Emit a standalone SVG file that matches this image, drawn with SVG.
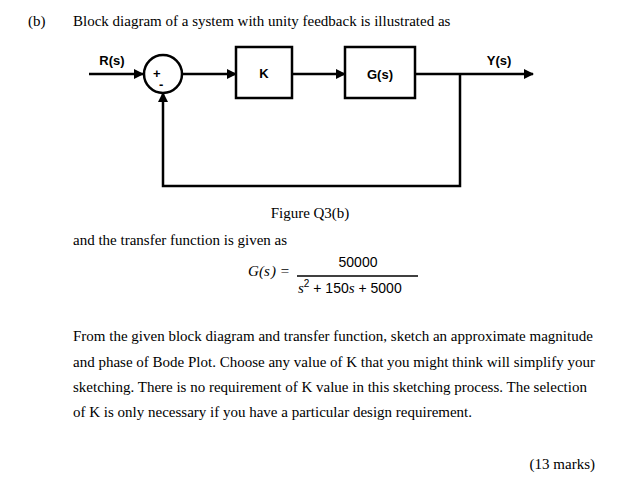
<svg xmlns="http://www.w3.org/2000/svg" width="621" height="491" viewBox="0 0 621 491">
<style>
.t{font-family:"Liberation Serif",serif;font-size:15px;fill:#000}
.s{font-family:"Liberation Sans",Arial,sans-serif;font-weight:bold;font-size:13px;fill:#000}
.m{font-family:"Liberation Serif",serif;font-style:italic;font-size:15px}
.n{font-family:"Liberation Sans",sans-serif;font-size:14px}
.ln{stroke:#000;stroke-width:2.5;fill:none}
</style>
<defs><marker id="a" markerWidth="10" markerHeight="10" refX="9" refY="5" orient="auto" markerUnits="userSpaceOnUse"><path d="M0,0 L10,5 L0,10 Z" fill="#000"/></marker></defs>
<rect width="621" height="491" fill="#fff"/>
<text class="t" x="28" y="26">(b)</text>
<text class="t" x="73" y="26">Block diagram of a system with unity feedback is illustrated as</text>
<g id="sum"><circle cx="163" cy="74" r="19" class="ln"/><text class="s" x="153" y="78" font-size="11">+</text><text class="s" x="159" y="89" font-size="11">-</text></g>
<g id="K"><rect x="236" y="47" width="56" height="51" class="ln"/><text class="s" x="264" y="78" text-anchor="middle">K</text></g>
<g id="G"><rect x="345" y="47" width="70" height="51" class="ln"/><text class="s" x="380" y="79" text-anchor="middle">G(s)</text></g>
<g id="connectors">
<path d="M89,74 H143" class="ln" marker-end="url(#a)"/>
<path d="M182,74 H236" class="ln" marker-end="url(#a)"/>
<path d="M292,74 H345" class="ln" marker-end="url(#a)"/>
<path d="M415,74 H533" class="ln" marker-end="url(#a)"/>
<path d="M460,74 V186 H163 V93" class="ln" marker-end="url(#a)"/>
</g>
<text class="s" x="112" y="65" text-anchor="middle">R(s)</text>
<text class="s" x="499" y="65" text-anchor="middle">Y(s)</text>
<text class="t" x="310" y="218" text-anchor="middle">Figure Q3(b)</text>
<text class="t" x="73" y="245">and the transfer function is given as</text>
<text class="m" x="248" y="276">G</text><text class="m" x="259" y="276" font-style="normal">(</text><text class="m" x="264" y="276">s</text><text class="m" x="271" y="276" font-style="normal">) =</text>
<text class="n" x="358" y="267" text-anchor="middle">50000</text>
<line x1="297" y1="276" x2="418" y2="276" stroke="#000" stroke-width="1.3"/>
<text class="n" x="298" y="293"><tspan font-family="Liberation Serif" font-style="italic" font-size="15">s</tspan><tspan font-size="10" dy="-6">2</tspan><tspan dy="6"> + 150</tspan><tspan font-family="Liberation Serif" font-style="italic" font-size="15">s</tspan><tspan>  + 5000</tspan></text>
<text class="t" x="73" y="341">From the given block diagram and transfer function, sketch an approximate magnitude</text>
<text class="t" x="73" y="367">and phase of Bode Plot. Choose any value of K that you might think will simplify your</text>
<text class="t" x="73" y="392">sketching. There is no requirement of K value in this sketching process. The selection</text>
<text class="t" x="73" y="417">of K is only necessary if you have a particular design requirement.</text>
<text class="t" x="595" y="469" text-anchor="end">(13 marks)</text>
</svg>
